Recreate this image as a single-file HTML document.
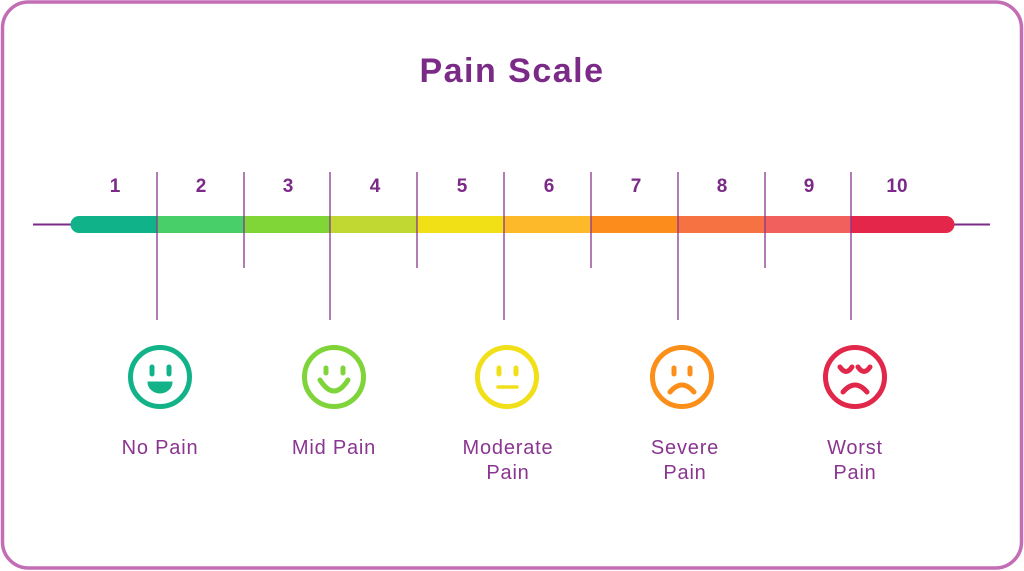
<!DOCTYPE html>
<html><head><meta charset="utf-8"><style>
html,body{margin:0;padding:0;background:#fff;}
svg{display:block;font-family:"Liberation Sans",sans-serif;}
</style></head><body>
<svg width="1024" height="571" viewBox="0 0 1024 571" xmlns="http://www.w3.org/2000/svg">
<rect x="2.5" y="2" width="1019" height="566" rx="26" fill="#fff" stroke="#c36db5" stroke-width="3.5"/>
<text x="512" y="82" text-anchor="middle" font-size="34" font-weight="bold" fill="#7b2a87" letter-spacing="1.5">Pain Scale</text>
<line x1="33" y1="224.5" x2="80" y2="224.5" stroke="#7b2a87" stroke-width="2"/>
<line x1="945" y1="224.5" x2="990" y2="224.5" stroke="#7b2a87" stroke-width="2"/>
<g>
<path d="M79 216 H157 V233 H79 A8.5 8.5 0 0 1 79 216 Z" fill="#10b389"/>
<rect x="157" y="216" width="87" height="17" fill="#48cf6a"/>
<rect x="244" y="216" width="86" height="17" fill="#80d636"/>
<rect x="330" y="216" width="87" height="17" fill="#c0d831"/>
<rect x="417" y="216" width="87" height="17" fill="#f2e017"/>
<rect x="504" y="216" width="87" height="17" fill="#fdb92a"/>
<rect x="591" y="216" width="87" height="17" fill="#fc8c1c"/>
<rect x="678" y="216" width="87" height="17" fill="#f77243"/>
<rect x="765" y="216" width="86" height="17" fill="#f1605c"/>
<path d="M851 216 H946 A8.5 8.5 0 0 1 946 233 H851 Z" fill="#e3264a"/>
</g>
<g stroke="#8a3590" stroke-width="1.3">
<line x1="157" y1="172" x2="157" y2="320"/>
<line x1="244" y1="172" x2="244" y2="268"/>
<line x1="330" y1="172" x2="330" y2="320"/>
<line x1="417" y1="172" x2="417" y2="268"/>
<line x1="504" y1="172" x2="504" y2="320"/>
<line x1="591" y1="172" x2="591" y2="268"/>
<line x1="678" y1="172" x2="678" y2="320"/>
<line x1="765" y1="172" x2="765" y2="268"/>
<line x1="851" y1="172" x2="851" y2="320"/>
</g>
<g font-size="19" font-weight="bold" fill="#7b2a87" text-anchor="middle">
<text x="115" y="192">1</text><text x="201" y="192">2</text><text x="288" y="192">3</text>
<text x="375" y="192">4</text><text x="462" y="192">5</text><text x="549" y="192">6</text>
<text x="636" y="192">7</text><text x="722" y="192">8</text><text x="809" y="192">9</text>
<text x="897" y="192">10</text>
</g>
<g fill="none" stroke-width="5" stroke-linecap="round">
<circle cx="160" cy="377" r="29.5" stroke="#13b389"/>
<line x1="152" y1="367" x2="152" y2="374" stroke="#13b389"/>
<line x1="169" y1="367" x2="169" y2="374" stroke="#13b389"/>
<path d="M148 382 H172 A12 11 0 0 1 148 382 Z" fill="#13b389" stroke="#13b389" stroke-width="1"/>
<circle cx="334" cy="377" r="29.5" stroke="#7fd43a"/>
<line x1="326" y1="368" x2="326" y2="373" stroke="#7fd43a"/>
<line x1="343" y1="368" x2="343" y2="373" stroke="#7fd43a"/>
<path d="M320 380 Q334 402 348 380" stroke="#7fd43a"/>
<circle cx="507" cy="377" r="29.5" stroke="#f1e019"/>
<line x1="499" y1="368" x2="499" y2="374" stroke="#f1e019"/>
<line x1="516" y1="368" x2="516" y2="374" stroke="#f1e019"/>
<line x1="498" y1="387" x2="517" y2="387" stroke="#f1e019" stroke-width="3.5"/>
<circle cx="682" cy="377" r="29.5" stroke="#fc8f1a"/>
<line x1="674" y1="368" x2="674" y2="374" stroke="#fc8f1a"/>
<line x1="690" y1="368" x2="690" y2="374" stroke="#fc8f1a"/>
<path d="M670 392 Q682 378 694 392" stroke="#fc8f1a"/>
<circle cx="855" cy="377" r="29.5" stroke="#e2284a"/>
<path d="M840 367 Q846 376 852 367" stroke="#e2284a"/>
<path d="M858 367 Q864 376 870 367" stroke="#e2284a"/>
<path d="M843 392 Q855 378 867 392" stroke="#e2284a"/>
</g>
<g font-size="20" fill="#8a3590" text-anchor="middle" letter-spacing="0.8">
<text x="160" y="454">No Pain</text>
<text x="334" y="454">Mid Pain</text>
<text x="508" y="454">Moderate</text><text x="508" y="479">Pain</text>
<text x="685" y="454">Severe</text><text x="685" y="479">Pain</text>
<text x="855" y="454">Worst</text><text x="855" y="479">Pain</text>
</g>
</svg>
</body></html>
